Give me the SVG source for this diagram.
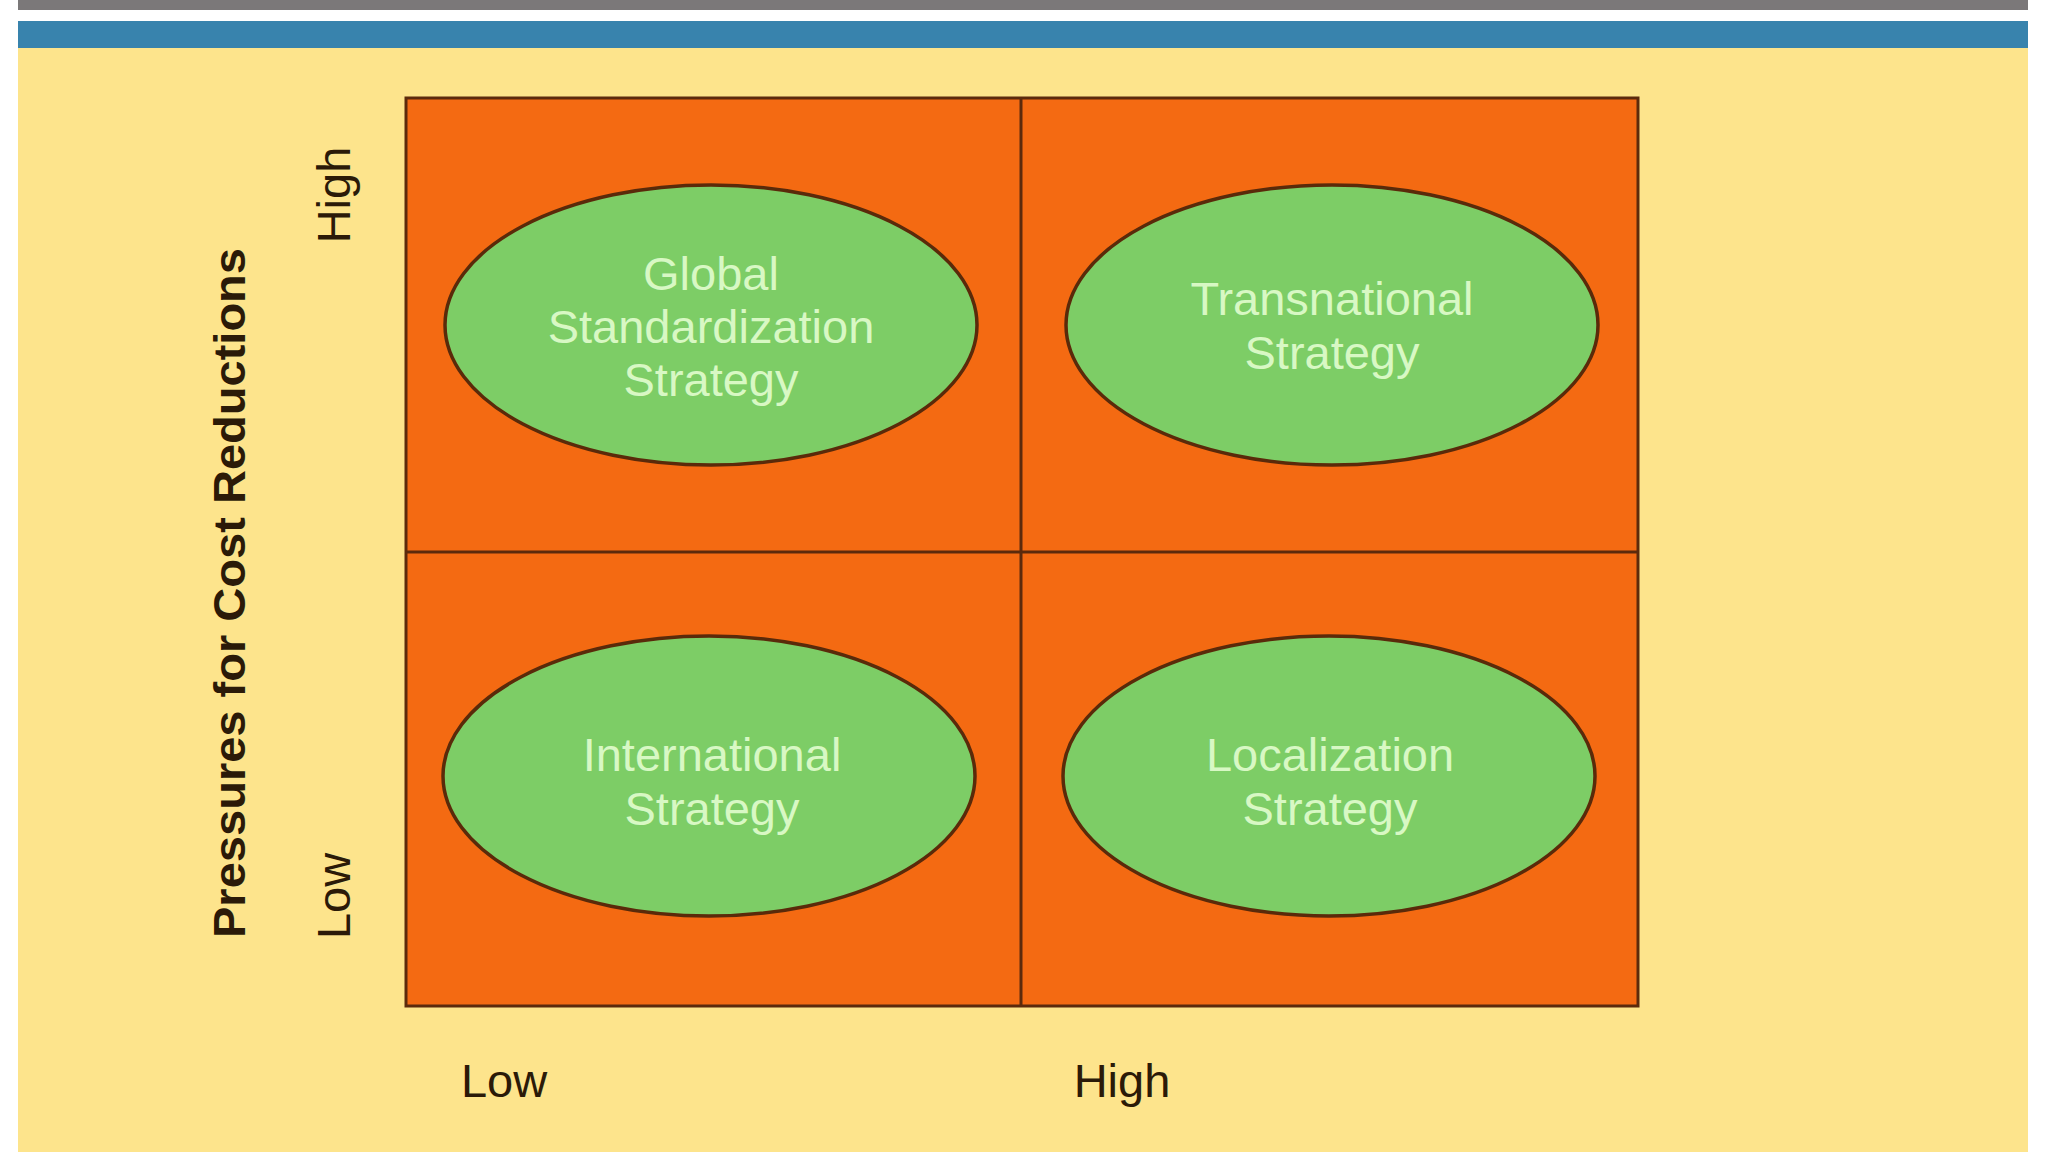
<svg xmlns="http://www.w3.org/2000/svg" width="2048" height="1152" viewBox="0 0 2048 1152">
<style>
.cell{fill:#f46a12;stroke:#5c2a0c;stroke-width:3}
.oval{fill:#7dcd66;stroke:#5a2a0a;stroke-width:3.5}
.lbl{font-family:"Liberation Sans",Arial,sans-serif;font-size:47px;fill:#d8f8c4;text-anchor:middle}
.axis{font-family:"Liberation Sans",Arial,sans-serif;font-size:47px;fill:#2b1a08}
.title{font-family:"Liberation Sans",Arial,sans-serif;font-size:44px;font-weight:bold;fill:#2b1a08;text-anchor:middle}
</style>
<rect x="0" y="0" width="2048" height="1152" fill="#ffffff"/>
<rect x="18" y="0" width="2010" height="10" fill="#7b7879"/>
<rect x="18" y="21" width="2010" height="27" fill="#3883ad"/>
<rect x="18" y="48" width="2010" height="1104" fill="#fde48c"/>
<g id="grid">
<rect class="cell" x="406" y="98" width="1232" height="908"/>
</g>
<g id="connectors">
<line x1="1021" y1="98" x2="1021" y2="1006" stroke="#5c2a0c" stroke-width="3"/>
<line x1="406" y1="552" x2="1638" y2="552" stroke="#5c2a0c" stroke-width="3"/>
</g>
<g id="global">
<ellipse class="oval" cx="711" cy="325" rx="266" ry="140"/>
<text class="lbl" x="711" y="290">Global</text>
<text class="lbl" x="711" y="343">Standardization</text>
<text class="lbl" x="711" y="396">Strategy</text>
</g>
<g id="transnational">
<ellipse class="oval" cx="1332" cy="325" rx="266" ry="140"/>
<text class="lbl" x="1332" y="315">Transnational</text>
<text class="lbl" x="1332" y="369">Strategy</text>
</g>
<g id="international">
<ellipse class="oval" cx="709" cy="776" rx="266" ry="140"/>
<text class="lbl" x="712" y="771">International</text>
<text class="lbl" x="712" y="825">Strategy</text>
</g>
<g id="localization">
<ellipse class="oval" cx="1329" cy="776" rx="266" ry="140"/>
<text class="lbl" x="1330" y="771">Localization</text>
<text class="lbl" x="1330" y="825">Strategy</text>
</g>
<g id="axes">
<text class="title" transform="translate(245,593) rotate(-90)" x="0" y="0" textLength="690" lengthAdjust="spacingAndGlyphs">Pressures for Cost Reductions</text>
<text class="axis" transform="translate(350,195) rotate(-90)" x="0" y="0" text-anchor="middle">High</text>
<text class="axis" transform="translate(350,896) rotate(-90)" x="0" y="0" text-anchor="middle">Low</text>
<text class="axis" x="504" y="1097" text-anchor="middle">Low</text>
<text class="axis" x="1122" y="1097" text-anchor="middle">High</text>
</g>
</svg>
